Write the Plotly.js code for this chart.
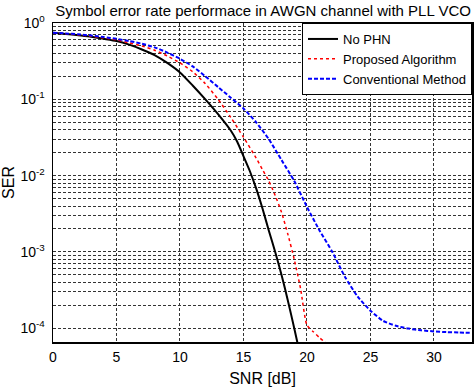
<!DOCTYPE html>
<html>
<head>
<meta charset="utf-8">
<script src="https://cdn.plot.ly/plotly-3.0.1.min.js"></script>
<style>html,body{margin:0;padding:0;background:#fff;}#chart{width:474px;height:390px;}</style>
</head>
<body>
<div id="chart"></div>
<script>
// SNR [dB] and SER values
var snrNoPhn = [0,1,2,3,4,5,6,7,8,9,10,11,12,13,14,14.5,15,15.5,16,16.5,17,17.5,18,18.5,19,19.4];
var serNoPhn = [0.745,0.72,0.69,0.66,0.62,0.58,0.52,0.45,0.38,0.30,0.225,0.152,0.1,0.064,0.039,0.028,0.018,0.0115,0.0068,0.0037,0.0019,0.001,0.0005,0.00023,0.0001,0.00005];

var snrProp = [0,1,2,3,4,5,6,7,8,9,10,11,12,13,14,15,16,16.5,17,17.5,18,18.5,19,19.5,20,20.5,21,21.7];
var serProp = [0.745,0.725,0.70,0.67,0.64,0.60,0.55,0.50,0.44,0.37,0.30,0.23,0.16,0.10,0.058,0.032,0.017,0.012,0.0085,0.0055,0.0033,0.0017,0.0008,0.00033,0.00011,0.00009,0.000075,0.00006];

var snrConv = [0,1,2,3,4,5,6,7,8,9,10,11,12,13,14,15,16,17,18,19,20,21,22,23,24,25,26,27,28,29,30,31,32,33];
var serConv = [0.745,0.73,0.71,0.685,0.655,0.62,0.58,0.535,0.48,0.41,0.34,0.27,0.20,0.145,0.105,0.076,0.05,0.03,0.016,0.0085,0.0039,0.0019,0.001,0.00047,0.00026,0.00017,0.000125,0.000108,0.000099,0.000094,0.000091,0.000089,0.000088,0.000087];

var names = ['No PHN','Proposed Algorithm','Conventional Method'];

var yTickVals = [];
var yTickText = [];
var decadeLabels = ['10<sup>-4</sup>','10<sup>-3</sup>','10<sup>-2</sup>','10<sup>-1</sup>','10<sup>0</sup>'];
for (var d = -4; d <= 0; d++) {
  for (var m = 1; m <= 9; m++) {
    if (d === 0 && m > 1) break;
    yTickVals.push(m * Math.pow(10, d));
    yTickText.push(m === 1 ? decadeLabels[d + 4] : '');
  }
}
var xTickVals = [0,5,10,15,20,25,30];

var traces = [
  {x: snrNoPhn, y: serNoPhn, name: names[0], mode: 'lines', line: {color: '#000000', width: 2, shape: 'spline', smoothing: 0.6}},
  {x: snrProp, y: serProp, name: names[1], mode: 'lines', line: {color: '#ff0000', width: 1.5, dash: 'dot', shape: 'spline', smoothing: 0.6}},
  {x: snrConv, y: serConv, name: names[2], mode: 'lines', line: {color: '#0000ff', width: 2, dash: '4px,2px', shape: 'spline', smoothing: 0.6}}
];

var gridStyle = {gridcolor: '#333333', gridwidth: 1, griddash: '3px,2px'};

var layout = {
  width: 474, height: 390,
  margin: {l: 53, r: 2, t: 23, b: 48},
  paper_bgcolor: '#ffffff', plot_bgcolor: '#ffffff',
  font: {family: 'Liberation Sans, Arial, sans-serif', size: 14, color: '#000'},
  title: {text: 'Symbol error rate performace in AWGN channel with PLL VCO', x: 0.555, xanchor: 'center', y: 0.985, yanchor: 'top', font: {size: 15, color: '#000'}},
  xaxis: Object.assign({
    range: [0, 33], tickvals: xTickVals, ticks: '', showline: true, linecolor: '#000', linewidth: 1.5, mirror: true,
    zeroline: false, showgrid: true, ticklabelstandoff: 2,
    title: {text: 'SNR [dB]', font: {size: 16}, standoff: 8}
  }, gridStyle),
  yaxis: Object.assign({
    type: 'log', range: [-4.18, 0], tickvals: yTickVals, ticktext: yTickText, ticks: '',
    showline: true, linecolor: '#000', linewidth: 1.5, mirror: true, zeroline: false, showgrid: true, ticklabelstandoff: 4,
    title: {text: 'SER', font: {size: 16}, standoff: 6}
  }, gridStyle),
  legend: {x: 1, xanchor: 'right', y: 1, yanchor: 'top', bgcolor: '#ffffff', bordercolor: '#000', borderwidth: 1, font: {size: 13}, tracegroupgap: 0},
  showlegend: true
};

Plotly.newPlot('chart', traces, layout, {staticPlot: true, displayModeBar: false});
</script>
</body>
</html>
